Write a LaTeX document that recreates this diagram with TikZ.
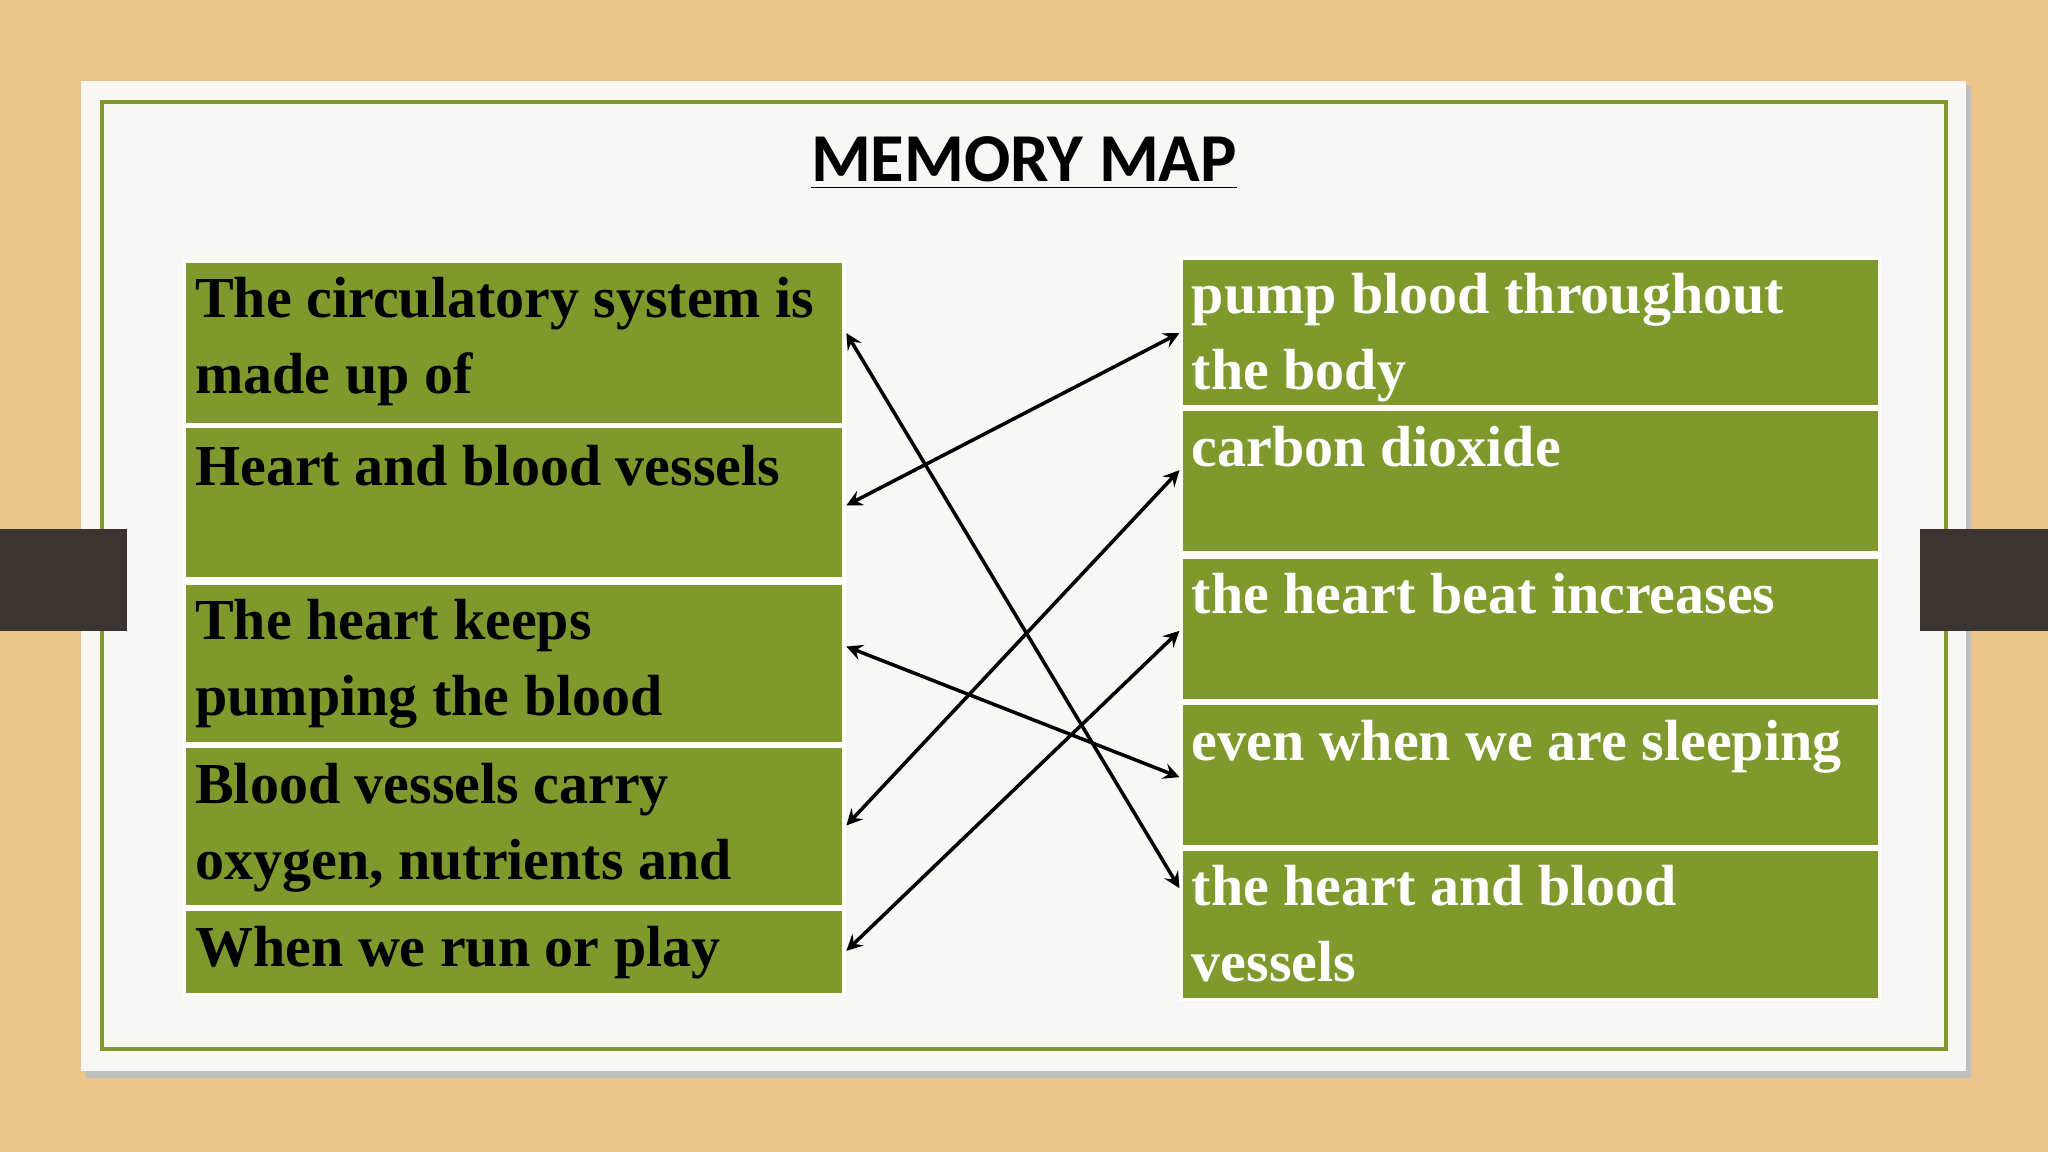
\documentclass[tikz,border=0pt]{standalone}
\usepackage{fontspec}
\setmainfont{Liberation Serif}
\newfontfamily\titlefont{Carlito}
\definecolor{wood}{HTML}{EBC48C}
\definecolor{olive}{HTML}{7F992D}
\definecolor{frame}{HTML}{7F992D}
\definecolor{tab}{HTML}{3B3431}
\definecolor{card}{HTML}{F7F7F5}
\tikzset{
 lbox/.style={fill=olive,draw=white,line width=1pt,anchor=north west,inner sep=0,minimum width=6.596cm},
 rbox/.style={fill=olive,draw=white,line width=1pt,anchor=north west,inner sep=0,minimum width=6.988cm},
 ltxt/.style={anchor=north west,inner sep=0,align=left,font=\bfseries\fontsize{16.5}{21.6}\selectfont,text=black},
 rtxt/.style={anchor=north west,inner sep=0,align=left,font=\bfseries\fontsize{16.5}{21.6}\selectfont,text=white},
 conn/.style={<->,>=stealth,line width=1pt,black}
}
\begin{document}
\begin{tikzpicture}[x=0.013061cm,y=-0.013061cm]
\fill[wood] (0,0) rectangle (1568,882);
\fill[black!25] (66,66) rectangle (1509,825);
\fill[card] (62,62) rectangle (1505,820);
\draw[frame,line width=1pt] (78,78) rectangle (1490,803);
\fill[tab] (0,405) rectangle (97,483);
\fill[tab] (1470,405) rectangle (1568,483);
\node[font=\titlefont\bfseries\fontsize{19.5}{22}\selectfont] (title) at (784,125) {\underline{MEMORY MAP}};
% left boxes
\node[lbox,minimum height=1.633cm] (L1) at (140,199) {};
\node[lbox,minimum height=1.528cm] (L2) at (140,325) {};
\node[lbox,minimum height=1.607cm] (L3) at (140,445) {};
\node[lbox,minimum height=1.607cm] (L4) at (140,570) {};
\node[lbox,minimum height=0.849cm] (L5) at (140,695) {};
% right boxes
\node[rbox,minimum height=1.489cm] (R1) at (903,196) {};
\node[rbox,minimum height=1.437cm] (R2) at (903,312) {};
\node[rbox,minimum height=1.437cm] (R3) at (903,425) {};
\node[rbox,minimum height=1.437cm] (R4) at (903,537) {};
\node[rbox,minimum height=1.502cm] (R5) at (903,649) {};
% texts
\node[ltxt] (t1) at (149,212) {The circulatory system is\\made up of};
\node[ltxt] (t2) at (149,340) {Heart and blood vessels};
\node[ltxt] (t3) at (149,458) {The heart keeps\\pumping the blood};
\node[ltxt] (t4) at (149,584) {Blood vessels carry\\oxygen, nutrients and};
\node[ltxt] (t5) at (149,709) {When we run or play};
\node[rtxt] (s1) at (912,209) {pump blood throughout\\the body};
\node[rtxt] (s2) at (912,326) {carbon dioxide};
\node[rtxt] (s3) at (912,438) {the heart beat increases};
\node[rtxt] (s4) at (912,551) {even when we are sleeping};
\node[rtxt] (s5) at (912,662) {the heart and blood\\vessels};
% connector ends
\coordinate (a1) at (648,255); \coordinate (b5) at (903,680);
\coordinate (a2) at (648,387); \coordinate (b1) at (903,255);
\coordinate (a3) at (648,495); \coordinate (b4) at (903,595);
\coordinate (a4) at (648,632); \coordinate (b2) at (903,360);
\coordinate (a5) at (648,728); \coordinate (b3) at (903,483);
\draw[conn] (a1) -- (b5);
\draw[conn] (a2) -- (b1);
\draw[conn] (a3) -- (b4);
\draw[conn] (a4) -- (b2);
\draw[conn] (a5) -- (b3);
\end{tikzpicture}
\end{document}
